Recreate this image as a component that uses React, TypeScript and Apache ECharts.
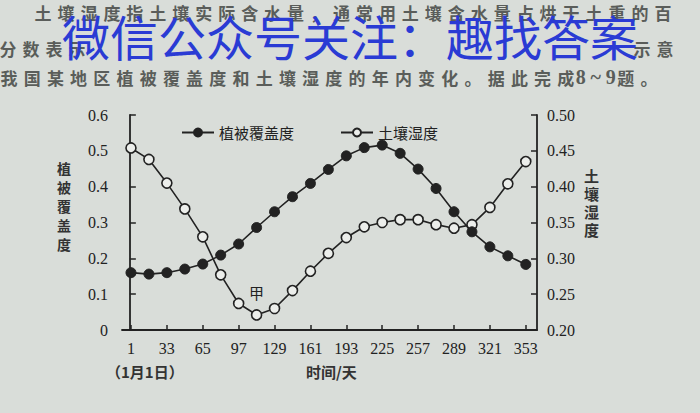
import React, { useEffect, useRef } from "react";
import * as echarts from "echarts";

const days = [1, 17, 33, 49, 65, 81, 97, 113, 129, 145, 161, 177, 193, 209, 225, 241, 257, 273, 289, 305, 321, 337, 353];
const xTicks = [1, 33, 65, 97, 129, 161, 193, 225, 257, 289, 321, 353];
const vegetation = [0.16, 0.156, 0.16, 0.17, 0.184, 0.209, 0.24, 0.286, 0.33, 0.372, 0.409, 0.448, 0.486, 0.509, 0.516, 0.493, 0.449, 0.395, 0.33, 0.274, 0.232, 0.207, 0.183];
const soil = [0.454, 0.438, 0.405, 0.369, 0.33, 0.277, 0.237, 0.221, 0.23, 0.255, 0.282, 0.307, 0.329, 0.344, 0.35, 0.354, 0.354, 0.347, 0.342, 0.347, 0.371, 0.404, 0.435];
const markIndex = 7;
const markText = "甲";

const line1 = "土壤湿度指土壤实际含水量，通常用土壤含水量占烘干土重的百";
const line2a = "分数表示";
const line2b = "示意";
const line3 = "我国某地区植被覆盖度和土壤湿度的年内变化。据此完成8~9题。";
const watermark = "微信公众号关注：趣找答案";

const serif = "'Liberation Serif', 'Noto Sans CJK SC', serif";
const cjk = "'Noto Sans CJK SC', sans-serif";
const ink = "#222";
const paper = "#d9ddd9";

function spaced(text: string, startCenter: number, top: number, step: number, narrowStep: number, size: number, fill: string) {
  const out: any[] = [];
  let c = startCenter;
  for (let i = 0; i < text.length; i++) {
    const ch = text[i];
    const narrow = /[0-9~]/.test(ch);
    out.push({
      type: "text",
      x: c,
      y: top,
      style: {
        text: ch,
        fontFamily: narrow ? serif : cjk,
        fontSize: narrow ? size + 3 : size,
        fontWeight: "bold",
        fill,
        align: "center",
        verticalAlign: "middle",
      },
    });
    const nextNarrow = i + 1 < text.length && /[0-9~]/.test(text[i + 1]);
    c += narrow || nextNarrow ? narrowStep : step;
  }
  return out;
}

export default function App() {
  const ref = useRef<HTMLDivElement>(null);
  useEffect(() => {
    if (!ref.current) return;
    const chart = echarts.init(ref.current, undefined, { renderer: "svg" });
    const vegData = days.map((d, i) => [d, vegetation[i]]);
    const soilData: any[] = days.map((d, i) => {
      if (i === markIndex) {
        return {
          value: [d, soil[i]],
          label: {
            show: true,
            formatter: markText,
            position: "top",
            distance: 9,
            fontSize: 15,
            color: ink,
            fontFamily: cjk,
          },
        };
      }
      return [d, soil[i]];
    });
    const textGray = "#5a5d5a";
    chart.setOption({
      animation: false,
      backgroundColor: paper,
      grid: { left: 122, right: 163, top: 115, bottom: 83 },
      legend: {
        left: 176,
        top: 120,
        itemWidth: 32,
        itemHeight: 10,
        itemGap: 46,
        textStyle: { fontFamily: cjk, fontSize: 15, color: ink },
        data: ["植被覆盖度", "土壤湿度"],
      },
      xAxis: {
        type: "value",
        min: -7,
        max: 363,
        splitLine: { show: false },
        axisLine: { show: true, lineStyle: { color: ink, width: 1.8 } },
        axisTick: { show: true, inside: true, length: 5, customValues: xTicks, lineStyle: { color: ink, width: 1.5 } },
        axisLabel: { customValues: xTicks, fontFamily: serif, fontSize: 16, color: ink, margin: 10 },
      },
      yAxis: [
        {
          type: "value",
          min: 0,
          max: 0.6,
          interval: 0.1,
          splitLine: { show: false },
          axisLine: { show: true, lineStyle: { color: ink, width: 1.8 } },
          axisTick: { show: true, inside: true, length: 6, lineStyle: { color: ink, width: 1.5 } },
          axisLabel: {
            fontFamily: serif,
            fontSize: 16,
            color: ink,
            margin: 14,
            formatter: (v: number) => (v === 0 ? "0" : v.toFixed(1)),
          },
        },
        {
          type: "value",
          min: 0.2,
          max: 0.5,
          interval: 0.05,
          position: "right",
          splitLine: { show: false },
          axisLine: { show: true, lineStyle: { color: ink, width: 1.8 } },
          axisTick: { show: true, inside: true, length: 6, lineStyle: { color: ink, width: 1.5 } },
          axisLabel: {
            fontFamily: serif,
            fontSize: 16,
            color: ink,
            margin: 10,
            formatter: (v: number) => v.toFixed(2),
          },
        },
      ],
      series: [
        {
          name: "植被覆盖度",
          type: "line",
          yAxisIndex: 0,
          data: vegData,
          symbol: "circle",
          symbolSize: 10,
          lineStyle: { color: ink, width: 1.6 },
          itemStyle: { color: ink, borderColor: ink, borderWidth: 1 },
          z: 3,
        },
        {
          name: "土壤湿度",
          type: "line",
          yAxisIndex: 1,
          data: soilData,
          symbol: "circle",
          symbolSize: 10,
          lineStyle: { color: ink, width: 1.6 },
          itemStyle: { color: "#eceeeb", borderColor: ink, borderWidth: 1.6 },
          z: 2,
        },
      ],
      graphic: [
        {
          type: "text",
          left: 57,
          top: 158,
          style: { text: "植\n被\n覆\n盖\n度", fontFamily: cjk, fontSize: 14, fontWeight: "bold", lineHeight: 19, fill: "#333" },
        },
        {
          type: "text",
          left: 584,
          top: 166,
          style: { text: "土\n壤\n湿\n度", fontFamily: cjk, fontSize: 15, fontWeight: "bold", lineHeight: 18, fill: "#333" },
        },
        {
          type: "text",
          left: 106,
          top: 364,
          style: { text: "（1月1日）", fontFamily: cjk, fontSize: 15, fontWeight: "bold", fill: "#333" },
        },
        {
          type: "text",
          left: 306,
          top: 364,
          style: { text: "时间/天", fontFamily: cjk, fontSize: 15, fontWeight: "bold", fill: "#333" },
        },
        ...spaced(line1, 43, 12, 22.96, 15, 17, textGray),
        ...spaced(line2a, 8, 48, 22.96, 15, 17, textGray),
        ...spaced(line2b, 642, 48, 22.96, 15, 17, textGray),
        ...spaced(line3, 9, 77, 23.2, 15, 17, textGray),
        {
          type: "text",
          left: 62,
          top: 11,
          style: { text: watermark, fontFamily: cjk, fontSize: 48, fill: "#2a3bd4" },
        },
      ],
    });
    return () => chart.dispose();
  }, []);
  return (
    <div
      ref={ref}
      style={{ position: "fixed", left: 0, top: 0, width: 700, height: 413 }}
    />
  );
}
